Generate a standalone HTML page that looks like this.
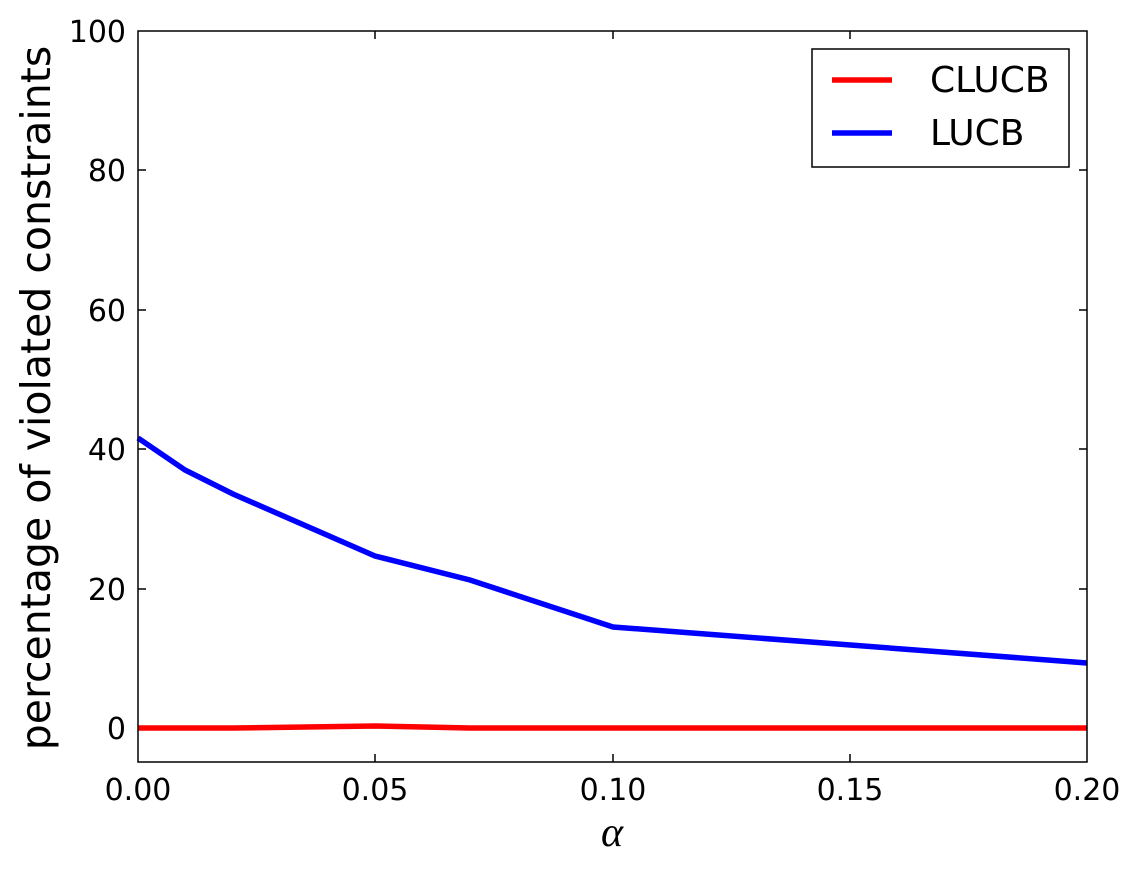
<!DOCTYPE html>
<html><head><style>body{margin:0;background:#fff}</style></head><body>
<svg width="1140" height="873" xmlns="http://www.w3.org/2000/svg" font-family="DejaVu Sans, Liberation Sans, sans-serif">
<rect width="1140" height="873" fill="#fff"/>
<g stroke="#000" stroke-width="1.5">
<line x1="138" y1="728" x2="146" y2="728"/><line x1="1087" y1="728" x2="1079" y2="728"/>
<line x1="138" y1="589" x2="146" y2="589"/><line x1="1087" y1="589" x2="1079" y2="589"/>
<line x1="138" y1="449" x2="146" y2="449"/><line x1="1087" y1="449" x2="1079" y2="449"/>
<line x1="138" y1="310" x2="146" y2="310"/><line x1="1087" y1="310" x2="1079" y2="310"/>
<line x1="138" y1="170" x2="146" y2="170"/><line x1="1087" y1="170" x2="1079" y2="170"/>
<line x1="375" y1="762" x2="375" y2="754"/><line x1="375" y1="31" x2="375" y2="39"/>
<line x1="613" y1="762" x2="613" y2="754"/><line x1="613" y1="31" x2="613" y2="39"/>
<line x1="850" y1="762" x2="850" y2="754"/><line x1="850" y1="31" x2="850" y2="39"/>
</g>
<polyline fill="none" stroke="#0000ff" stroke-width="5.5" points="138,438 185,470 233,494 375,556 470,580 613,627 1087,663"/>
<polyline fill="none" stroke="#ff0000" stroke-width="5.5" points="138,728 233,728 375,726 470,728 1087,728"/>
<rect x="138" y="31" width="949" height="731" fill="none" stroke="#000" stroke-width="1.5"/>
<g font-size="30" text-anchor="end">
<text x="126" y="739">0</text><text x="126" y="600">20</text><text x="126" y="460">40</text>
<text x="126" y="321">60</text><text x="126" y="181">80</text><text x="126" y="42">100</text>
</g>
<g font-size="30" text-anchor="middle">
<text x="138" y="800">0.00</text><text x="375" y="800">0.05</text><text x="613" y="800">0.10</text>
<text x="850" y="800">0.15</text><text x="1087" y="800">0.20</text>
</g>
<text x="612" y="846" font-size="42" font-style="italic" font-family="Liberation Serif, DejaVu Serif, serif" text-anchor="middle">α</text>
<text transform="translate(50,398) rotate(-90)" font-size="41" text-anchor="middle">percentage of violated constraints</text>
<rect x="812" y="49" width="257" height="118" fill="#fff" stroke="#000" stroke-width="1.5"/>
<line x1="832" y1="80" x2="892" y2="80" stroke="#ff0000" stroke-width="5.5"/>
<line x1="832" y1="133" x2="892" y2="133" stroke="#0000ff" stroke-width="5.5"/>
<text x="930" y="92" font-size="36">CLUCB</text>
<text x="930" y="145" font-size="36">LUCB</text>
</svg>
</body></html>
